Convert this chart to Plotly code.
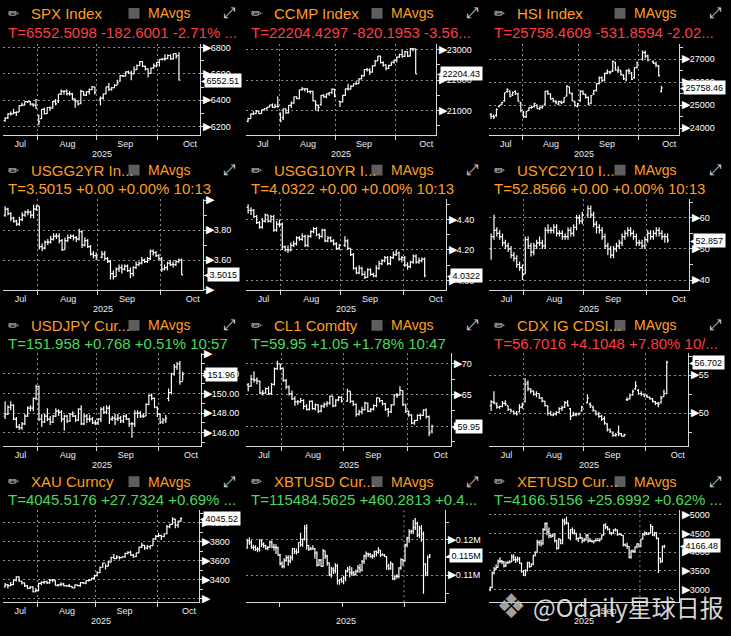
import plotly.graph_objects as go
import pandas as pd

W, H = 731, 636
FONT = "Liberation Sans, Arial, sans-serif"
ORANGE = "#ff9f1c"
RED = "#ff3c46"
GREEN = "#46dc5a"
AXIS = "#d8d8d8"
GRID = "#8c8c8c"
LABEL = "#e9eef6"

# ---------------- trading calendars (categories) ----------------
US_DAYS = pd.bdate_range("2025-07-16", "2025-10-10").drop(pd.Timestamp("2025-09-01"))
US_DAYS_13 = pd.bdate_range("2025-07-16", "2025-10-13").drop(pd.Timestamp("2025-09-01"))
HK_DAYS = pd.bdate_range("2025-07-16", "2025-10-13").drop(pd.to_datetime(["2025-10-01", "2025-10-07"]))
FX_DAYS = pd.bdate_range("2025-07-16", "2025-10-13")
CRYPTO_DAYS = pd.date_range("2025-07-16", "2025-10-13")

MONTHS = ["Jul", "Aug", "Sep", "Oct"]
MONTH_STARTS = ["2025-08-01", "2025-09-01", "2025-10-01"]
WD_LABEL_AT = ["2025-07-23 22:00", "2025-08-15 17:00", "2025-09-15 08:00", "2025-10-16 10:00"]

# ---------------- SPX ----------------
SPX_OPEN = [6245,6264,6297,6297,6306,6310,6359,6363,6389,6390,6371,6363,
    6287,6260,6330,6299,6345,6340,6389,6395,6446,6467,6469,6450,6449,6411,6396,6378,6467,6439,6466,6481,6502,
    6409,6416,6448,6502,6482,6495,6513,6545,6587,6584,6615,6607,6600,6632,6664,6694,6657,6638,6605,6644,6661,
    6688,6711,6715,6716,6740,6715,6754,6740]
SPX_HIGH = [6270,6302,6315,6336,6316,6360,6381,6390,6394,6393,6378,6409,
    6288,6330,6344,6346,6352,6395,6410,6446,6481,6474,6481,6470,6456,6412,6393,6479,6467,6467,6489,6508,6502,
    6428,6450,6503,6533,6500,6523,6555,6593,6593,6620,6627,6624,6656,6672,6699,6697,6665,6640,6648,6680,6689,
    6712,6720,6750,6749,6750,6755,6757,6764]
SPX_LOW = [6237,6258,6285,6293,6281,6310,6357,6360,6379,6360,6350,6336,
    6212,6258,6292,6295,6318,6338,6362,6380,6440,6441,6437,6436,6400,6344,6360,6370,6435,6433,6444,6477,6444,
    6360,6406,6445,6471,6472,6492,6518,6540,6577,6580,6599,6552,6600,6630,6660,6652,6627,6575,6600,6640,6651,
    6656,6703,6701,6712,6705,6710,6715,6550]
SPX_CLOSE = [6264,6297,6297,6306,6310,6359,6363,6389,6390,6371,6363,6339,
    6238,6330,6299,6345,6340,6389,6373,6446,6467,6469,6450,6449,6411,6396,6370,6467,6439,6466,6481,6502,6460,
    6416,6448,6502,6482,6495,6513,6532,6587,6584,6615,6607,6600,6632,6664,6694,6657,6638,6605,6644,6661,6688,
    6711,6715,6716,6740,6715,6754,6735,6552.51]

# ---------------- CCMP ----------------
CCMP_OPEN = [20640,20730,20885,20896,20974,20892,21020,21057,21108,21178,21098,21130,
    20900,20760,21054,20916,21169,21242,21450,21385,21682,21713,21711,21623,21630,21315,21172,21190,21497,21449,21544,21590,21705,
    21300,21280,21498,21708,21700,21799,21879,21886,22043,22141,22349,22333,22261,22470,22631,22789,22574,22498,22384,22484,22591,
    22660,22755,22844,22780,22941,22788,23043,23030]
CCMP_HIGH = [20760,20890,20975,21010,21000,21030,21070,21110,21190,21230,21220,21460,
    20930,21060,21060,21180,21290,21460,21470,21690,21770,21730,21730,21660,21640,21320,21190,21510,21530,21560,21610,21720,21710,
    21300,21520,21720,21880,21830,21890,21960,22060,22180,22360,22400,22390,22490,22660,22800,22800,22620,22520,22500,22600,22670,
    22780,22870,23000,22960,22950,23060,23050,23040]
CCMP_LOW = [20610,20720,20850,20880,20880,20890,20990,21020,21100,21090,21080,21090,
    20610,20680,20890,20900,21080,21230,21370,21380,21650,21620,21580,21550,21300,21000,20960,21150,21420,21400,21480,21540,21430,
    21110,21270,21480,21660,21690,21780,21840,21880,22030,22130,22280,22170,22250,22460,22630,22550,22440,22320,22370,22480,22540,
    22580,22740,22740,22760,22760,22780,22950,22200]
CCMP_CLOSE = [20730,20885,20896,20974,20892,21020,21057,21108,21178,21098,21130,21122,
    20650,21054,20916,21169,21242,21450,21385,21682,21713,21711,21623,21630,21315,21172,21100,21497,21449,21544,21590,21705,21456,
    21280,21498,21708,21700,21799,21879,21886,22043,22141,22349,22333,22261,22470,22631,22789,22574,22498,22384,22484,22591,22660,
    22755,22844,22780,22941,22788,23043,23024,22204.43]

# ---------------- HSI ----------------
HSI_OPEN = [24590,24517,24560,24950,25040,25200,25600,25600,25450,25600,25500,25100,
    24700,24500,24780,24900,24950,25000,24850,24920,25050,25600,25480,25300,25150,25050,25150,25150,25400,25800,25500,25150,24950,
    25200,25600,25460,25350,25100,25500,25650,25950,26200,26100,26400,26450,26500,26850,26500,26500,26300,26100,26500,26400,26200,26650,
    27000,27300,27150,26900,26800,26700,25600]
HSI_HIGH = [24660,24600,24860,25000,25150,25560,25740,25650,25600,25650,25550,25150,
    24750,24760,24920,24980,25100,25050,24950,25000,25620,25650,25520,25310,25230,25200,25200,25350,25870,25800,25560,25200,25100,
    25650,25650,25500,25380,25450,25680,25960,26250,26250,26420,26560,26500,26950,26900,26700,26550,26350,26550,26600,26450,26650,26900,
    27380,27380,27200,26950,26900,26750,25850]
HSI_LOW = [24400,24400,24500,24900,25000,25150,25550,25350,25400,25450,25150,24700,
    24450,24450,24750,24850,24900,24850,24800,24850,25000,25450,25250,25130,25050,25000,25050,25100,25380,25500,25180,24950,24900,
    25150,25450,25300,25000,25050,25450,25600,25900,26000,26050,26350,26350,26450,26500,26400,26300,26100,26050,26350,26100,26150,26600,
    26950,27050,26900,26800,26650,26250,25560]
HSI_CLOSE = [24517,24499,24826,24994,25130,25538,25667,25388,25562,25524,25177,24773,
    24507,24733,24902,24911,25082,24859,24907,24970,25613,25519,25270,25177,25123,25166,25105,25339,25830,25525,25202,24999,25078,
    25617,25497,25343,25058,25418,25633,25938,26200,26086,26388,26447,26439,26908,26545,26546,26345,26159,26519,26485,26128,26623,26856,
    27287,27141,26958,26829,26752,26290,25758.46]

# ---------------- USGG2YR ----------------
UST2_OPEN = [3.90,3.94,3.91,3.88,3.86,3.84,3.87,3.90,3.92,3.92,3.90,3.94,
    3.96,3.69,3.68,3.72,3.72,3.74,3.76,3.76,3.73,3.67,3.73,3.75,3.76,3.75,3.74,3.79,3.70,3.73,3.69,3.64,3.63,
    3.62,3.64,3.61,3.59,3.51,3.49,3.54,3.55,3.54,3.56,3.53,3.51,3.55,3.57,3.58,3.60,3.59,3.61,3.66,3.65,3.63,
    3.61,3.54,3.55,3.58,3.57,3.57,3.59,3.60]
UST2_HIGH = [3.96,3.95,3.92,3.89,3.87,3.89,3.92,3.93,3.94,3.93,3.97,3.97,
    3.96,3.71,3.73,3.74,3.76,3.78,3.78,3.78,3.74,3.75,3.77,3.77,3.77,3.76,3.81,3.80,3.75,3.74,3.70,3.66,3.65,
    3.66,3.66,3.62,3.60,3.53,3.55,3.57,3.57,3.57,3.57,3.55,3.56,3.59,3.59,3.62,3.61,3.62,3.67,3.67,3.66,3.64,
    3.62,3.57,3.59,3.60,3.59,3.60,3.61,3.61]
UST2_LOW = [3.89,3.90,3.86,3.85,3.83,3.83,3.86,3.89,3.90,3.88,3.88,3.93,
    3.67,3.66,3.67,3.70,3.71,3.73,3.74,3.71,3.66,3.67,3.72,3.74,3.73,3.72,3.73,3.68,3.69,3.68,3.63,3.61,3.60,
    3.61,3.60,3.58,3.47,3.47,3.49,3.52,3.51,3.53,3.52,3.48,3.49,3.54,3.56,3.57,3.58,3.58,3.60,3.63,3.62,3.60,
    3.52,3.53,3.53,3.56,3.55,3.56,3.58,3.50]
UST2_CLOSE = [3.94,3.91,3.88,3.86,3.84,3.87,3.90,3.92,3.92,3.90,3.94,3.96,
    3.69,3.68,3.72,3.72,3.74,3.76,3.76,3.73,3.67,3.73,3.75,3.76,3.75,3.74,3.79,3.70,3.73,3.69,3.64,3.63,3.62,
    3.64,3.61,3.59,3.51,3.49,3.54,3.55,3.54,3.56,3.53,3.51,3.55,3.57,3.58,3.60,3.59,3.61,3.66,3.65,3.63,3.61,
    3.54,3.55,3.58,3.57,3.57,3.59,3.60,3.5015]

# ---------------- USGG10YR ----------------
UST10_OPEN = [4.48,4.46,4.46,4.42,4.38,4.35,4.39,4.43,4.39,4.42,4.33,4.37,
    4.37,4.22,4.20,4.20,4.23,4.24,4.28,4.27,4.29,4.23,4.29,4.32,4.34,4.30,4.29,4.33,4.26,4.28,4.26,4.24,4.21,
    4.23,4.26,4.21,4.17,4.08,4.05,4.08,4.04,4.02,4.07,4.04,4.03,4.08,4.11,4.13,4.15,4.11,4.15,4.17,4.18,4.14,
    4.15,4.10,4.09,4.12,4.16,4.12,4.13,4.14]
UST10_HIGH = [4.50,4.48,4.47,4.43,4.39,4.41,4.44,4.43,4.43,4.43,4.39,4.40,
    4.38,4.23,4.23,4.25,4.26,4.29,4.29,4.31,4.30,4.30,4.33,4.35,4.35,4.31,4.34,4.34,4.29,4.29,4.27,4.25,4.24,
    4.29,4.27,4.21,4.18,4.09,4.10,4.09,4.06,4.08,4.08,4.05,4.10,4.13,4.14,4.16,4.16,4.16,4.19,4.20,4.19,4.16,
    4.16,4.12,4.13,4.17,4.17,4.15,4.15,4.15]
UST10_LOW = [4.44,4.43,4.41,4.37,4.34,4.34,4.38,4.38,4.38,4.32,4.32,4.35,
    4.20,4.19,4.18,4.19,4.22,4.23,4.26,4.26,4.22,4.22,4.28,4.31,4.29,4.27,4.28,4.25,4.25,4.25,4.23,4.20,4.20,
    4.22,4.20,4.16,4.07,4.04,4.04,4.03,4.01,4.02,4.03,4.02,4.02,4.07,4.10,4.12,4.10,4.10,4.14,4.16,4.13,4.12,
    4.09,4.07,4.08,4.11,4.11,4.11,4.12,4.02]
UST10_CLOSE = [4.46,4.46,4.42,4.38,4.35,4.39,4.43,4.39,4.42,4.33,4.37,4.37,
    4.22,4.20,4.20,4.23,4.24,4.28,4.27,4.29,4.23,4.29,4.32,4.34,4.30,4.29,4.33,4.26,4.28,4.26,4.24,4.21,4.23,
    4.26,4.21,4.17,4.08,4.05,4.08,4.04,4.02,4.07,4.04,4.03,4.08,4.11,4.13,4.15,4.11,4.15,4.17,4.18,4.14,4.15,
    4.10,4.09,4.12,4.16,4.12,4.13,4.14,4.0322]

# ---------------- USYC2Y10 ----------------
CURVE_OPEN = [50,54,56,55,54,52,51,50,48,47,45,44,
    42,53,51,49,51,52,52,51,56,56,56,57,55,55,54,54,56,55,57,60,59,
    61,63,61,58,57,56,54,51,50,48,50,51,52,54,55,56,55,54,52,52,51,
    53,55,54,55,56,55,54,54]
CURVE_HIGH = [55,61,57,56,55,53,52,51,49,48,46,45,
    54,54,52,52,53,54,53,57,58,57,58,58,56,56,55,57,57,58,61,61,62,
    64,64,62,59,58,57,55,52,51,51,52,53,55,56,57,57,56,55,53,53,54,
    56,56,56,57,57,56,55,55]
CURVE_LOW = [46.5,53,54,53,51,50,49,47,46,44,43,40,
    42,50,47.6,48,50,51,50,50,55,55,55,54,54,53,53,53,54,54,56,58,58,
    60,60,57,55,55,53,50,48,47,47,49,50,51,53,54,54,53,51,51,50,50,
    52,53,53,54,54,53,52,52]
CURVE_CLOSE = [54,56,55,54,52,51,50,48,47,45,44,42,
    53,51,49,51,52,52,51,56,56,56,57,55,55,54,54,56,55,57,60,59,61,
    63,61,58,57,56,54,51,50,48,50,51,52,54,55,56,55,54,52,52,51,53,
    55,54,55,56,55,54,54,52.8566]

# ---------------- USDJPY ----------------
JPY_OPEN = [147.7,147.9,148.6,148.8,147.4,146.6,146.5,146.9,147.7,148.5,148.5,149.5,
    150.7,147.4,147.1,147.7,147.4,147.1,147.7,148.2,148.1,147.4,147.7,147.2,147.9,147.7,147.3,148.4,146.9,147.7,147.4,147.4,147.0,
    147.0,147.4,148.4,148.1,148.5,147.4,147.5,147.4,147.5,147.2,147.7,147.4,146.9,146.9,148.0,148.0,147.7,147.7,148.9,149.8,149.5,148.6,
    147.9,147.1,147.3,149.5,150.1,152.0,152.7,153.0,151.2]
JPY_HIGH = [149.2,148.8,149.2,148.9,147.6,146.9,147.1,147.9,148.7,148.8,149.6,150.9,
    150.8,147.9,147.9,148.5,147.7,147.8,148.5,148.4,148.3,147.8,147.8,148.0,148.2,147.8,148.5,148.8,147.9,147.9,147.8,147.6,147.3,
    147.5,148.6,148.7,148.8,148.8,147.7,147.9,147.9,147.7,147.8,147.9,147.5,147.1,148.3,148.3,148.2,148.0,149.0,149.9,150.0,149.6,148.7,
    148.0,147.5,147.8,150.5,152.1,153.0,153.2,153.3,152.2]
JPY_LOW = [147.4,147.8,148.3,147.3,146.5,146.3,146.3,146.8,147.6,148.2,148.2,149.3,
    147.2,146.6,147.0,147.2,146.8,147.0,147.6,147.7,147.1,146.2,147.0,147.1,147.6,147.1,147.2,146.8,146.8,147.0,147.1,146.9,146.8,
    146.8,147.1,147.9,147.9,146.9,147.2,146.8,147.2,147.0,147.0,147.3,146.6,145.5,146.6,147.5,147.5,147.5,147.7,148.8,149.3,148.5,147.6,
    146.9,146.9,147.0,149.2,149.9,151.8,152.4,150.9,151.3]
JPY_CLOSE = [147.9,148.6,148.8,147.4,146.6,146.5,146.9,147.7,148.5,148.5,149.5,150.7,
    147.4,147.1,147.7,147.4,147.1,147.7,148.2,148.1,147.4,147.7,147.2,147.9,147.7,147.3,148.4,146.9,147.7,147.4,147.4,147.0,147.0,
    147.4,148.4,148.1,148.5,147.4,147.5,147.4,147.5,147.2,147.7,147.4,146.9,146.9,148.0,148.0,147.7,147.7,148.9,149.8,149.5,148.6,147.9,
    147.1,147.3,147.5,150.1,152.0,152.7,153.0,151.2,151.958]

# ---------------- CL1 ----------------
CL_OPEN = [66.6,66.4,67.5,67.4,67.2,65.3,65.3,66.0,65.2,66.7,69.2,70.0,
    69.3,67.3,66.3,65.2,64.4,63.9,63.9,64.1,63.2,62.7,64.0,62.8,63.4,62.4,63.2,63.5,63.7,64.8,63.3,64.2,64.6,
    64.0,65.6,64.0,63.5,61.9,62.3,62.6,63.7,62.4,62.7,63.3,64.5,64.1,63.6,62.7,62.3,63.4,65.0,65.0,65.7,63.5,
    62.4,61.8,60.5,60.9,61.7,61.7,62.6,61.5,59.2]
CL_HIGH = [66.9,68.2,68.8,67.8,67.3,65.8,66.2,66.4,66.9,69.4,70.5,70.0,
    69.4,67.6,66.5,65.7,64.8,64.2,64.5,64.3,63.5,64.1,64.1,63.6,63.5,63.4,63.8,64.0,64.9,64.8,64.3,64.8,64.8,
    66.0,65.6,64.1,63.6,62.6,63.1,63.9,63.8,62.9,63.5,64.6,64.6,64.2,63.7,62.9,63.5,65.1,65.3,66.4,65.7,63.5,
    62.5,61.9,61.0,61.9,62.0,62.7,62.8,61.7,60.2]
CL_LOW = [65.6,66.3,67.0,66.7,65.1,64.9,65.2,65.0,65.0,66.5,69.0,69.0,
    67.1,65.9,64.9,64.2,63.2,63.4,63.7,62.7,62.5,62.5,62.6,62.5,62.1,62.2,62.9,63.1,63.4,63.0,63.1,64.0,63.8,
    63.9,63.7,63.2,61.5,61.7,61.9,62.5,62.2,62.2,62.5,63.0,63.8,63.3,62.4,61.5,62.1,63.3,64.5,64.9,63.2,62.1,
    61.5,60.3,60.2,60.8,61.0,61.6,61.2,58.4,58.8]
CL_CLOSE = [66.38,67.54,67.34,67.20,65.31,65.25,66.03,65.16,66.71,69.21,70.00,69.26,
    67.33,66.29,65.16,64.35,63.88,63.88,64.10,63.17,62.65,63.96,62.80,63.42,62.35,63.21,63.52,63.66,64.80,63.25,64.15,64.60,64.01,
    65.59,63.97,63.48,61.87,62.26,62.63,63.67,62.37,62.69,63.30,64.52,64.05,63.57,62.68,62.28,63.41,64.99,64.98,65.72,63.45,62.37,
    61.78,60.48,60.88,61.69,61.73,62.55,61.51,58.90,59.95]

# ---------------- CDX IG ----------------
CDX_OPEN = [51.0,51.5,51.2,50.8,50.9,51.3,51.0,50.5,50.2,50.0,50.2,50.8,
    51.5,54.0,53.2,52.9,52.5,52.6,52.0,51.6,51.0,50.0,49.8,49.9,50.1,50.6,50.8,51.4,50.6,49.7,49.8,49.9,50.3,
    51.4,51.2,50.8,50.3,49.9,49.6,49.3,48.6,47.8,47.4,47.1,47.5,47.3,47.0,51.8,51.9,52.4,53.2,53.0,52.6,52.5,
    52.3,52.1,51.9,51.5,51.3,51.4,52.2,52.6]
CDX_HIGH = [51.7,52.9,51.4,51.0,51.6,51.7,51.0,50.6,50.4,50.3,51.2,51.4,
    54.6,54.3,53.3,53.0,52.9,52.6,52.1,51.6,51.0,50.3,50.1,50.3,50.8,51.0,51.6,51.7,50.7,50.2,50.1,50.1,51.0,
    52.5,51.4,51.0,50.4,50.2,49.8,49.6,48.7,48.0,47.6,47.4,48.4,47.4,47.3,52.1,52.6,53.1,54.2,53.2,52.9,52.6,
    52.5,52.2,52.0,51.6,51.5,52.3,53.1,56.9]
CDX_LOW = [50.3,51.2,50.6,50.6,50.8,51.0,50.3,50.1,49.8,49.7,50.1,50.6,
    51.4,52.9,52.6,52.3,52.1,51.9,51.4,50.9,49.7,49.7,49.6,49.7,50.0,50.3,50.7,50.9,49.1,49.6,49.6,49.7,50.2,
    51.3,50.7,50.2,49.7,49.4,49.0,48.5,47.6,47.4,46.9,46.9,47.0,46.9,46.9,51.6,51.8,52.3,53.1,52.4,52.3,52.1,
    52.0,51.8,51.4,51.1,50.8,51.3,52.2,52.5]
CDX_CLOSE = [51.5,51.4,50.8,50.9,51.3,51.2,50.5,50.3,50.0,49.9,50.8,51.1,
    53.8,53.2,52.9,52.5,52.6,52.0,51.6,51.0,50.0,49.8,49.9,50.1,50.6,50.7,51.4,51.0,49.6,49.8,49.9,50.0,50.8,
    52.0,51.0,50.4,49.9,49.6,49.2,48.7,47.9,47.6,47.1,47.2,47.3,47.0,47.2,51.8,52.4,52.9,53.6,52.6,52.5,52.3,
    52.2,51.9,51.6,51.3,51.2,52.0,52.6,56.7016]

# ---------------- XAU ----------------
XAU_OPEN = [3325,3347,3339,3350,3397,3432,3387,3368,3337,3314,3326,3275,
    3290,3363,3373,3381,3369,3397,3398,3342,3348,3356,3336,3336,3332,3315,3347,3339,3372,3365,3393,3397,3416,
    3448,3477,3533,3578,3545,3587,3636,3625,3641,3634,3643,3680,3690,3660,3644,3685,3746,3763,3736,3749,3760,3833,
    3859,3866,3857,3886,3961,3985,4041,3976,4018]
XAU_HIGH = [3366,3358,3377,3402,3439,3438,3393,3373,3345,3334,3334,3315,
    3370,3385,3390,3390,3409,3410,3400,3358,3375,3370,3347,3358,3336,3351,3350,3379,3377,3394,3407,3423,3455,
    3490,3540,3580,3565,3600,3645,3673,3659,3650,3649,3685,3703,3707,3673,3686,3750,3791,3768,3768,3761,3836,3872,
    3896,3875,3889,3977,3990,4060,4045,4026,4059]
XAU_LOW = [3320,3310,3336,3345,3382,3380,3352,3325,3302,3303,3268,3271,
    3280,3346,3356,3356,3360,3375,3340,3330,3333,3332,3330,3322,3311,3312,3332,3328,3360,3353,3384,3395,3408,
    3436,3473,3528,3510,3540,3585,3620,3620,3615,3635,3632,3667,3654,3632,3640,3683,3735,3718,3720,3722,3759,3820,
    3850,3820,3850,3880,3945,3981,3945,3949,4010]
XAU_CLOSE = [3347,3339,3350,3397,3432,3387,3368,3337,3314,3326,3275,3290,
    3363,3373,3381,3369,3397,3398,3342,3348,3356,3336,3336,3332,3315,3347,3339,3372,3365,3393,3397,3416,3448,
    3477,3533,3578,3545,3587,3636,3625,3641,3634,3643,3680,3690,3660,3644,3685,3746,3763,3736,3749,3760,3833,3859,
    3866,3857,3886,3961,3985,4041,3976,4018,4045.52]

# ---------------- XBTUSD ----------------
XBT_OPEN = [117700,119800,119300,117900,117900,117300,117400,119900,118800,118400,117600,117900,119400,118000,117900,117800,
    115700,113300,112500,114200,115000,114100,115000,117500,116700,116500,119300,118700,120200,123300,118400,117400,117500,117500,116300,112900,114300,112500,116900,115400,113500,110100,111800,111300,112600,108400,108800,
    108300,109200,111200,111700,110700,110700,110200,111200,112100,111500,113900,115500,116100,115900,115300,115400,116800,116500,117100,115700,115700,115300,112700,112000,113300,109000,109700,109700,112100,114400,
    114100,118600,120600,122300,122400,123500,124700,121400,123300,121700,113200,110700,115100]
XBT_HIGH = [120100,120700,120000,118600,118500,118000,120200,120200,119300,118600,118300,119800,119800,118900,118800,118100,
    116100,114000,114800,115700,115700,115700,117700,117700,117600,119300,122000,120300,124200,124400,118600,118000,118500,117700,116800,114600,114600,117400,117000,115800,113600,112400,112300,113400,113200,108900,109400,
    109900,111600,112400,112600,112300,111200,111600,112900,113200,114300,115800,116700,116400,116300,116000,116900,117000,117900,117100,116200,116000,115400,113300,114000,113400,110000,110300,112300,114800,114700,
    118900,120900,123000,122900,125700,126200,125100,124000,124200,122400,113400,115600,116000]
XBT_LOW = [117600,118600,117500,117100,116900,116500,116700,118000,117700,117200,117100,117800,117700,117000,116000,115500,
    112800,112000,112000,113800,112700,113400,114200,116000,115900,116300,118100,118100,119800,117200,116900,117100,117200,114700,112500,112600,112500,112400,114600,112700,109800,109300,110400,110600,107400,107300,107900,
    107500,108300,110800,109400,110000,109800,110000,110700,110700,111100,113200,114500,115200,115000,114700,115000,115300,116100,115200,115500,115200,111600,111400,111600,108700,108600,109000,109200,111600,112700,
    113900,117900,119200,121700,121700,122800,120800,120500,119500,104800,109700,109800,114800]
XBT_CLOSE = [119800,119300,117900,117900,117300,117400,119900,118800,118400,117600,117900,119400,118000,117900,117800,115700,
    113300,112500,114200,115000,114100,115000,117500,116700,116500,119300,118700,120200,123300,118400,117400,117500,117500,116300,112900,114300,112500,116900,115400,113500,110100,111800,111300,112600,108400,108800,108300,
    109200,111200,111700,110700,110700,110200,111200,112100,111500,113900,115500,116100,115900,115300,115400,116800,116500,117100,115700,115700,115300,112700,112000,113300,109000,109700,109700,112100,114400,114100,
    118600,120600,122300,122400,123500,124700,121400,123300,121700,113200,110700,115100,115484.56]

# ---------------- XETUSD ----------------
XET_OPEN = [2980,3050,3440,3550,3590,3760,3760,3740,3630,3710,3720,3740,3870,3800,3800,3810,
    3700,3480,3380,3500,3720,3610,3680,3910,3990,4260,4250,4220,4600,4760,4550,4440,4430,4480,4310,4100,4340,4230,4830,4780,4780,4380,4600,4510,4500,4360,4370,
    4390,4310,4330,4450,4300,4300,4280,4310,4310,4310,4350,4460,4720,4670,4610,4520,4500,4590,4590,4470,4480,4450,4200,4170,4150,3870,4030,4010,4140,4220,
    4150,4350,4480,4510,4480,4510,4690,4460,4520,4370,3830,3750,4150]
XET_HIGH = [3080,3480,3600,3670,3800,3860,3790,3760,3750,3770,3780,3940,3940,3880,3880,3870,
    3720,3520,3540,3740,3740,3700,3920,4020,4330,4320,4330,4640,4790,4790,4660,4480,4500,4490,4330,4380,4350,4890,4900,4950,4790,4620,4660,4610,4520,4400,4490,
    4400,4380,4480,4490,4380,4330,4320,4370,4380,4370,4480,4750,4770,4700,4640,4540,4610,4640,4610,4510,4500,4460,4230,4250,4160,4060,4070,4150,4240,4240,
    4360,4510,4560,4540,4530,4750,4700,4540,4530,4390,3850,4180,4200]
XET_LOW = [2950,3040,3400,3520,3580,3700,3680,3590,3600,3680,3700,3730,3760,3710,3740,3680,
    3450,3360,3350,3480,3580,3600,3650,3880,3980,4170,4150,4200,4570,4450,4370,4380,4400,4260,4060,4080,4210,4210,4720,4740,4360,4320,4480,4470,4320,4270,4350,
    4240,4270,4310,4250,4280,4260,4230,4280,4290,4280,4340,4440,4620,4580,4480,4450,4490,4550,4440,4460,4430,4150,4150,4080,3830,3820,3980,3990,4100,4120,
    4130,4340,4440,4460,4460,4500,4430,4420,4340,3440,3700,3720,4100]
XET_CLOSE = [3050,3440,3550,3590,3760,3760,3740,3630,3710,3720,3740,3870,3800,3800,3810,3700,
    3480,3380,3500,3720,3610,3680,3910,3990,4260,4250,4220,4600,4760,4550,4440,4430,4480,4310,4100,4340,4230,4830,4780,4780,4380,4600,4510,4500,4360,4370,4390,
    4310,4330,4450,4300,4300,4280,4310,4310,4310,4350,4460,4720,4670,4610,4520,4500,4590,4590,4470,4480,4450,4200,4170,4150,3870,4030,4010,4140,4220,4150,
    4350,4480,4510,4480,4510,4690,4460,4520,4370,3830,3750,4150,4166.48]

# ---------------- panel texts ----------------
TICKERS = ["SPX Index", "CCMP Index", "HSI Index",
           "USGG2YR In...", "USGG10YR I...", "USYC2Y10 I...",
           "USDJPY Cur...", "CL1 Comdty", "CDX IG CDSI...",
           "XAU Curncy", "XBTUSD Cur...", "XETUSD Cur..."]
QUOTES = ["T=6552.5098 -182.6001 -2.71% ...", "T=22204.4297 -820.1953 -3.56...", "T=25758.4609 -531.8594 -2.02...",
          "T=3.5015 +0.00 +0.00% 10:13", "T=4.0322 +0.00 +0.00% 10:13", "T=52.8566 +0.00 +0.00% 10:13",
          "T=151.958 +0.768 +0.51% 10:57", "T=59.95 +1.05 +1.78% 10:47", "T=56.7016 +4.1048 +7.80% 10/...",
          "T=4045.5176 +27.7324 +0.69% ...", "T=115484.5625 +460.2813 +0.4...", "T=4166.5156 +25.6992 +0.62% ..."]
QUOTE_COLORS = [RED, RED, RED, ORANGE, ORANGE, ORANGE, GREEN, GREEN, RED, GREEN, GREEN, GREEN]
LAST_LABELS = ["6552.51", "22204.43", "25758.46", "3.5015", "4.0322", "52.857",
               "151.96", "59.95", "56.702", "4045.52", "0.115M", "4166.48"]

Y_RANGES = [[6138, 6825], [20197, 23180], [23720, 27650],
            [3.398, 4.006], [3.935, 4.533], [36.7, 66.0],
            [144.66, 154.1], [56.8, 71.7], [45.7, 57.9],
            [3165, 4138], [102400, 128500], [2658, 5132]]
Y_TICKVALS = [[6200, 6400, 6600, 6800], [21000, 22000, 23000], [24000, 25000, 26000, 27000],
              [3.4, 3.6, 3.8, 4.0], [4.0, 4.2, 4.4], [40, 50, 60],
              [146, 148, 150, 152, 154], [60, 65, 70], [50, 55],
              [3200, 3400, 3600, 3800, 4000], [110000, 120000], [3000, 3500, 4000, 4500, 5000]]
Y_TICKTEXT = [["6200", "6400", "6600", "6800"], ["21000", "22000", "23000"], ["24000", "25000", "26000", "27000"],
              ["", "3.60", "3.80", ""], ["4.00", "4.20", "4.40"], ["40", "50", "60"],
              ["146.00", "148.00", "150.00", "152.00", ""], ["60", "65", "70"], ["50", "55"],
              ["", "3400", "3600", "3800", "4000"], ["0.11M", "0.12M"], ["3000", "3500", "4000", "4500", "5000"]]
Y_MINOR = [100, 500, 500, 0.1, 0.1, 5, 1, 2.5, 2.5, 100, 5000, None]

SERIES = [("SPX", US_DAYS, SPX_OPEN, SPX_HIGH, SPX_LOW, SPX_CLOSE),
          ("CCMP", US_DAYS, CCMP_OPEN, CCMP_HIGH, CCMP_LOW, CCMP_CLOSE),
          ("HSI", HK_DAYS, HSI_OPEN, HSI_HIGH, HSI_LOW, HSI_CLOSE),
          ("2Y", US_DAYS, UST2_OPEN, UST2_HIGH, UST2_LOW, UST2_CLOSE),
          ("10Y", US_DAYS, UST10_OPEN, UST10_HIGH, UST10_LOW, UST10_CLOSE),
          ("2s10s", US_DAYS, CURVE_OPEN, CURVE_HIGH, CURVE_LOW, CURVE_CLOSE),
          ("JPY", FX_DAYS, JPY_OPEN, JPY_HIGH, JPY_LOW, JPY_CLOSE),
          ("CL1", US_DAYS_13, CL_OPEN, CL_HIGH, CL_LOW, CL_CLOSE),
          ("CDX", US_DAYS, CDX_OPEN, CDX_HIGH, CDX_LOW, CDX_CLOSE),
          ("XAU", FX_DAYS, XAU_OPEN, XAU_HIGH, XAU_LOW, XAU_CLOSE),
          ("XBT", CRYPTO_DAYS, XBT_OPEN, XBT_HIGH, XBT_LOW, XBT_CLOSE),
          ("XET", CRYPTO_DAYS, XET_OPEN, XET_HIGH, XET_LOW, XET_CLOSE)]
CRYPTO = {10, 11}

# ---------------- geometry (pixels) ----------------
COL_LEFT = [0, 243, 486]
PLOT_LR = [(3, 200), (246, 436), (489, 679),
           (3, 203), (246, 446), (489, 689),
           (3, 201), (246, 451), (489, 688),
           (3, 199), (246, 445), (489, 679)]
ROW_PLOT_TB = [(39, 131), (196.7, 289.3), (353.3, 447.7), (512.7, 606.7)]
ROW_TITLE_Y = [7.5, 167, 325, 484]
ROW_QUOTE_Y = [27, 186, 343.5, 502.5]
FLAG = "<span style='font-size:11px'>\u25b6</span>"


def px(xp):
    return xp / W


def py(yp):
    return 1 - yp / H


fig = go.Figure()
annotations = []
shapes = []
layout = dict(width=W, height=H, margin=dict(l=0, r=0, t=0, b=0, pad=0),
              paper_bgcolor="black", plot_bgcolor="black", showlegend=False,
              font=dict(family=FONT, color=LABEL, size=9), hovermode=False)

problems = []
for k, (name, days, o, h, l, c) in enumerate(SERIES):
    for arr in (o, h, l, c):
        if len(arr) != len(days):
            problems.append(f"{name}:{len(arr)}/{len(days)}")
    n = min(len(days), len(o), len(h), len(l), len(c))
    xs = (days + pd.Timedelta(hours=12))[:n]
    sfx = "" if k == 0 else str(k + 1)
    fig.add_trace(go.Ohlc(x=xs, open=o[:n], high=h[:n], low=l[:n], close=c[:n],
                          xaxis="x" + sfx, yaxis="y" + sfx,
                          increasing=dict(line=dict(color="white", width=1.2)),
                          decreasing=dict(line=dict(color="white", width=1.2)),
                          tickwidth=0.5, hoverinfo="skip", showlegend=False))

    r, col = divmod(k, 3)
    xl, xr = PLOT_LR[k]
    yt, yb = ROW_PLOT_TB[r]
    x0 = COL_LEFT[col]

    xa = dict(domain=[px(xl), px(xr)], anchor="y" + sfx, type="date",
              rangeslider=dict(visible=False), showline=True, linecolor=AXIS, linewidth=1,
              zeroline=False, showgrid=False, ticks="", tickmode="array",
              tickfont=dict(size=9, color=LABEL), fixedrange=True)
    if k in CRYPTO:
        xa.update(range=["2025-07-15 21:00", "2025-10-21 00:00"],
                  minor=dict(tickmode="array", tickvals=MONTH_STARTS, ticks="outside",
                             ticklen=4, tickcolor=AXIS, showgrid=False))
        if k == 11:
            xa.update(tickvals=["2025-09-15"], ticktext=["Sep"])
        else:
            xa.update(showticklabels=False, tickvals=["2025-09-15"], ticktext=[""])
        shapes.append(dict(type="line", xref="x" + sfx, yref="y" + sfx + " domain",
                           x0="2025-10-01", x1="2025-10-01", y0=0, y1=1,
                           line=dict(color=GRID, width=1, dash="2px,3px"), layer="below"))
    else:
        xa.update(range=["2025-07-15 18:00", "2025-10-22 00:00"],
                  rangebreaks=[dict(bounds=["sat", "mon"])],
                  tickvals=WD_LABEL_AT, ticktext=MONTHS,
                  minor=dict(tickmode="array", tickvals=MONTH_STARTS, ticks="outside",
                             ticklen=4, tickcolor=AXIS, showgrid=True, gridcolor=GRID,
                             gridwidth=1, griddash="2px,3px"))
    layout["xaxis" + sfx] = xa

    ya = dict(domain=[py(yb), py(yt)], anchor="x" + sfx, side="right",
              range=Y_RANGES[k], tickmode="array", tickvals=Y_TICKVALS[k],
              ticktext=[FLAG + t for t in Y_TICKTEXT[k]],
              ticks="", showgrid=True, gridcolor=GRID, gridwidth=1, griddash="2px,3px",
              showline=True, linecolor=AXIS, linewidth=1, zeroline=False,
              tickfont=dict(size=9, color="white"), fixedrange=True)
    if Y_MINOR[k] is not None:
        ya["minor"] = dict(dtick=Y_MINOR[k], ticks="outside", ticklen=3,
                           tickcolor=AXIS, showgrid=False)
    layout["yaxis" + sfx] = ya

    # header row
    ty = ROW_TITLE_Y[r]
    annotations.append(dict(text="\u270f", x=px(x0 + 13), y=py(ty), xref="paper", yref="paper",
                            xanchor="center", yanchor="middle", showarrow=False,
                            font=dict(size=13, color="#cfcfcf", family="DejaVu Sans")))
    annotations.append(dict(text=TICKERS[k], x=px(x0 + 29), y=py(ty), xref="paper", yref="paper",
                            xanchor="left", yanchor="middle", showarrow=False,
                            font=dict(size=15, color=ORANGE, family=FONT)))
    shapes.append(dict(type="rect", xref="paper", yref="paper",
                       x0=px(x0 + 128.5), x1=px(x0 + 139.5), y0=py(ty + 5.5), y1=py(ty - 5.5),
                       fillcolor="#5e5e5e", line=dict(width=0)))
    annotations.append(dict(text="MAvgs", x=px(x0 + 146), y=py(ty), xref="paper", yref="paper",
                            xanchor="left", yanchor="middle", showarrow=False,
                            font=dict(size=14, color=ORANGE, family=FONT)))
    annotations.append(dict(text="\u2922", x=px(x0 + 229.5), y=py(ty), xref="paper", yref="paper",
                            xanchor="center", yanchor="middle", showarrow=False,
                            font=dict(size=15, color="#cfcfcf", family="DejaVu Sans")))
    annotations.append(dict(text=QUOTES[k], x=px(x0 + 6), y=py(ROW_QUOTE_Y[r]), xref="paper", yref="paper",
                            xanchor="left", yanchor="middle", showarrow=False,
                            font=dict(size=15, color=QUOTE_COLORS[k], family=FONT)))
    # year label under the axis
    annotations.append(dict(text="2025", x=0.5, xref="x" + sfx + " domain", y=py(yb + 19.5), yref="paper",
                            xanchor="center", yanchor="middle", showarrow=False,
                            font=dict(size=9, color=LABEL, family=FONT)))
    # last value tag
    annotations.append(dict(text="\u25c0", x=1, xref="x" + sfx + " domain", y=c[n - 1], yref="y" + sfx,
                            xanchor="left", yanchor="middle", xshift=-1, showarrow=False,
                            font=dict(size=10, color="white", family="DejaVu Sans")))
    annotations.append(dict(text=LAST_LABELS[k], x=1, xref="x" + sfx + " domain", y=c[n - 1], yref="y" + sfx,
                            xanchor="left", yanchor="middle", xshift=4, showarrow=False,
                            bgcolor="white", borderpad=1.5, font=dict(size=9, color="black", family=FONT)))

# watermark
annotations.append(dict(text="\u2756", x=px(511), y=py(611), xref="paper", yref="paper",
                        xanchor="center", yanchor="middle", showarrow=False,
                        font=dict(size=34, color="rgba(190,190,190,0.85)", family="DejaVu Sans")))
annotations.append(dict(text="@Odaily星球日报", x=px(531), y=py(611), xref="paper", yref="paper",
                        xanchor="left", yanchor="middle", showarrow=False,
                        font=dict(size=24, color="rgba(235,235,235,0.92)", family="Noto Sans CJK SC")))

if problems:
    annotations.append(dict(text=" ".join(problems), x=0.5, y=0.5, xref="paper", yref="paper",
                            showarrow=False, font=dict(size=16, color="yellow"), bgcolor="red"))

layout["annotations"] = annotations
layout["shapes"] = shapes
fig.update_layout(**layout)

fig.write_html("out.html", config={"displayModeBar": False, "responsive": False},
               post_script="document.body.style.margin='0px';document.body.style.overflow='hidden';")
